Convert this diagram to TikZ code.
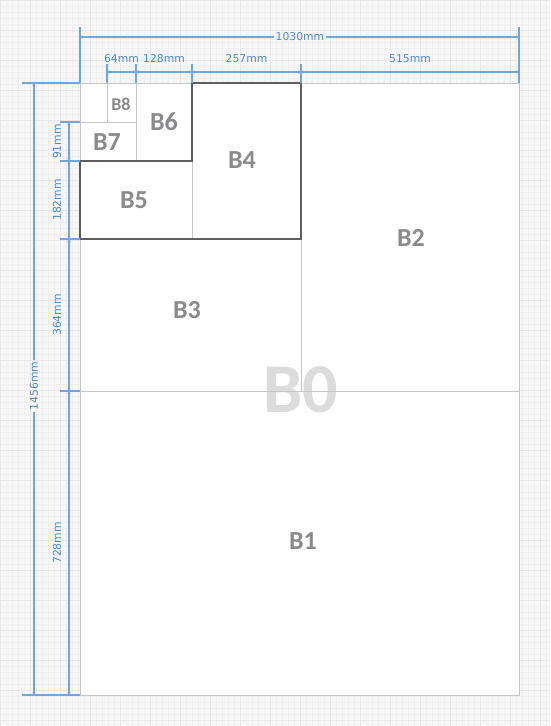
\documentclass[tikz,border=0pt]{standalone}
\usepackage{fontspec}
\setmainfont{Carlito}
\newfontfamily\dimfont{DejaVu Sans}
\usetikzlibrary{arrows.meta}
\definecolor{dimblue}{RGB}{112,166,222}
\definecolor{dimtext}{RGB}{76,140,206}
\definecolor{sheetline}{RGB}{198,198,198}
\definecolor{sheetdark}{RGB}{95,95,95}
\definecolor{labelgray}{RGB}{138,138,140}
\definecolor{bigclr}{RGB}{220,220,220}
\definecolor{paper}{RGB}{247,247,247}
\definecolor{gridfine}{RGB}{239,239,239}
\definecolor{gridcoarse}{RGB}{232,232,232}
\tikzstyle{dim} = [draw=dimblue, line width=1.1pt]
\tikzstyle{dimarrow} = [dim, {Stealth[length=3pt,width=3pt]}-{Stealth[length=3pt,width=3pt]}]
\tikzstyle{dimlabel} = [text=dimtext, font=\dimfont\fontsize{10.8}{12}\selectfont, inner sep=1.5pt]
\tikzstyle{sheet} = [draw=sheetline, line width=0.9pt]
\tikzstyle{sheetlabel} = [text=labelgray, font=\bfseries\fontsize{26}{28}\selectfont]

\begin{document}
\begin{tikzpicture}[x=1pt, y=-1pt]
        \useasboundingbox (0,0) rectangle (550,726);
        % background grid
        \fill[paper] (0,0) rectangle (550,726);
        \begin{scope}[y=1pt]
            \draw[gridfine, line width=0.4pt, step=6] (0,-726) grid (550,0);
            \draw[gridcoarse, line width=0.5pt, step=30] (0,-726) grid (550,0);
        \end{scope}

        % B0 sheet
        \filldraw[fill=white, sheet] (80,83) rectangle (519,695);
        \node (B0) at (301,390) [text=bigclr, font=\bfseries\fontsize{70}{72}\selectfont] {B0};

        % divisions
        \draw[sheet] (80,391) -- (519,391);
        \draw[sheet] (301,239) -- (301,391);
        \draw[sheet] (192,161) -- (192,239);
        \draw[sheet] (80,122) -- (136,122);
        \draw[sheet] (107,83) -- (107,122);
        \draw[sheet] (136,83) -- (136,161);
        \draw[sheetdark, line width=1.3pt] (80,161) -- (80,239) -- (301,239) -- (301,83) -- (192,83) -- (192,161) -- cycle;

        % sheet names
        \node (B1) at (303,541) [sheetlabel] {B1};
        \node (B2) at (411,238) [sheetlabel] {B2};
        \node (B3) at (187,310) [sheetlabel] {B3};
        \node (B4) at (242,160) [sheetlabel] {B4};
        \node (B5) at (134,200) [sheetlabel] {B5};
        \node (B6) at (164,122) [sheetlabel] {B6};
        \node (B7) at (107,142) [sheetlabel] {B7};
        \node (B8) at (121,104) [sheetlabel, font=\bfseries\fontsize{18}{20}\selectfont] {B8};

        % extension lines
        \draw[dim] (80,27) -- (80,83);
        \draw[dim] (519,27) -- (519,83);
        \foreach \xx in {107,136,192,301}
            \draw[dim] (\xx,64) -- (\xx,83);
        \draw[dim] (22,83) -- (80,83);
        \draw[dim] (22,695) -- (80,695);
        \foreach \yy in {122,161,239,391}
            \draw[dim] (60,\yy) -- (80,\yy);

        % widths
        \coordinate (W0l) at (80,37);
        \coordinate (W0r) at (519,37);
        \node (L1030) at (300,37) [dimlabel] {1030mm};
        \draw[dim, {Stealth[length=3pt,width=3pt]}-] (W0l) -- (L1030);
        \draw[dim, -{Stealth[length=3pt,width=3pt]}] (L1030) -- (W0r);

        \coordinate (W1) at (107,72);
        \coordinate (W2) at (136,72);
        \coordinate (W3) at (192,72);
        \coordinate (W4) at (301,72);
        \coordinate (W5) at (519,72);
        \draw[dimarrow] (W1) -- node [dimlabel, above=7pt] {64mm} (W2);
        \draw[dimarrow] (W2) -- node [dimlabel, above=7pt] {128mm} (W3);
        \draw[dimarrow] (W3) -- node [dimlabel, above=7pt] {257mm} (W4);
        \draw[dimarrow] (W4) -- node [dimlabel, above=7pt] {515mm} (W5);

        % heights
        \coordinate (H0t) at (34,83);
        \coordinate (H0b) at (34,695);
        \node (L1456) at (34,386) [dimlabel, rotate=90] {1456mm};
        \draw[dim, {Stealth[length=3pt,width=3pt]}-] (H0t) -- (L1456);
        \draw[dim, -{Stealth[length=3pt,width=3pt]}] (L1456) -- (H0b);

        \coordinate (H1) at (69,122);
        \coordinate (H2) at (69,161);
        \coordinate (H3) at (69,239);
        \coordinate (H4) at (69,391);
        \coordinate (H5) at (69,695);
        \draw[dimarrow] (H1) -- node [dimlabel, rotate=90, above=6pt] {91mm} (H2);
        \draw[dimarrow] (H2) -- node [dimlabel, rotate=90, above=6pt] {182mm} (H3);
        \draw[dimarrow] (H3) -- node [dimlabel, rotate=90, above=6pt] {364mm} (H4);
        \draw[dimarrow] (H4) -- node [dimlabel, rotate=90, above=6pt] {728mm} (H5);
    \end{tikzpicture}
\end{document}
